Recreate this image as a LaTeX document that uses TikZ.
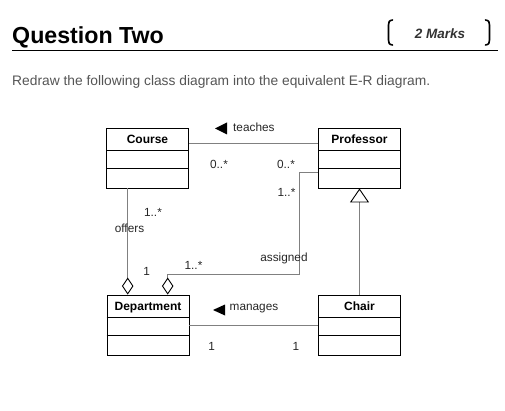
\documentclass[tikz,border=0pt]{standalone}
\usepackage{fontspec}
\setmainfont{Liberation Sans}
\usetikzlibrary{arrows.meta,calc}
\definecolor{linegray}{HTML}{808080}
\definecolor{subgray}{HTML}{555555}
\tikzset{
  classbox/.style={draw=black,line width=0.9pt,minimum width=82pt,minimum height=60pt,inner sep=0pt},
  classtitle/.style={font=\fontsize{12}{14}\selectfont\bfseries,inner sep=0pt,anchor=base},
  sepline/.style={draw=black,line width=0.9pt},
  conn/.style={draw=linegray,line width=0.9pt},
  lbl/.style={font=\fontsize{11.8}{14}\selectfont,inner sep=0pt,text=black!85},
  dirtri/.style={fill=black,draw=none}
}
\newcommand\umlclass[4]{%
  \node[classbox] (#1) at (#2,#3+30) {};
  \draw[sepline] ($(#1.north west)+(0,22.5)$) -- ($(#1.north east)+(0,22.5)$);
  \draw[sepline] ($(#1.north west)+(0,41)$) -- ($(#1.north east)+(0,41)$);
  \node[classtitle] (#1-t) at ($(#1.north)+(0,15.5)$) {#4};
}
\begin{document}
\begin{tikzpicture}[x=1pt,y=-1pt]
\useasboundingbox (0,0) rectangle (505,411);
% header
\node[anchor=base west,inner sep=0pt,font=\fontsize{23.2}{26}\selectfont\bfseries] (title) at (12,44) {Question Two};
\draw[line width=1pt] (12,51) coordinate (r1) -- (498,51) coordinate (r2);
\draw[line width=1.6pt,line cap=round] (392.5,20) .. controls (389,20.5) and (388.5,22) .. (388.5,25) -- (388.5,40) .. controls (388.5,43) and (389,44.5) .. (392.5,45);
\draw[line width=1.6pt,line cap=round] (485.5,20) .. controls (489,20.5) and (489.5,22) .. (489.5,25) -- (489.5,40) .. controls (489.5,43) and (489,44.5) .. (485.5,45);
\node[anchor=base,inner sep=0pt,font=\fontsize{13.5}{16}\selectfont\bfseries\itshape,text=black!80] (marks) at (440,38.5) {2 Marks};
\node[anchor=base west,inner sep=0pt,font=\fontsize{13.8}{16}\selectfont,text=subgray] (sub) at (12,85.5) {Redraw the following class diagram into the equivalent E-R diagram.};
% classes
\umlclass{course}{147.5}{128}{Course}
\umlclass{prof}{359.5}{128}{Professor}
\umlclass{dept}{148}{295}{Department}
\umlclass{chair}{359.5}{295}{Chair}
% teaches
\coordinate (t1) at ($(course.north east)+(0,15.7)$);
\draw[conn] (t1) -- (t1 -| prof.west);
\fill[dirtri] (215,128.5) -- (227,122.5) -- (227,134.5) -- cycle;
\node[lbl,anchor=west] (teaches) at (233,127.5) {teaches};
\node[lbl] (m1) at (219,164) {0..*};
\node[lbl] (m2) at (286,164) {0..*};
% assigned
\coordinate (a1) at ($(prof.north west)+(0,45.3)$);
\coordinate (a2) at (299,274.3);
\coordinate (a3) at (167.7,274.3);
\draw[conn,-{Diamond[open,length=17pt,width=11.5pt,line width=0.9pt,color=black]}] (a1) -| (a2) -- (a3) -- (a3 |- dept.north);
\node[lbl] (m3) at (286.5,192) {1..*};
\node[lbl] (m4) at (193.5,265.5) {1..*};
\node[lbl] (assigned) at (284,258) {assigned};
% offers
\coordinate (o1) at (127.7,188);
\draw[conn,-{Diamond[open,length=17pt,width=11.5pt,line width=0.9pt,color=black]}] (o1 |- course.south) -- (o1 |- dept.north);
\node[lbl] (m5) at (153,212.5) {1..*};
\node[lbl] (offers) at (129.5,228.5) {offers};
\node[lbl] (m6) at (146.7,271) {1};
% inheritance
\draw[conn,-{Triangle[open,length=14pt,width=19pt,line width=0.9pt,color=black,fill=white]}] (chair.north) -- (prof.south);
% manages
\coordinate (g1) at ($(dept.north east)+(0,30.7)$);
\draw[conn] (g1) -- (g1 -| chair.west);
\fill[dirtri] (213,310) -- (225,304.5) -- (225,315.5) -- cycle;
\node[lbl,anchor=west] (manages) at (229.5,309) {manages};
\node[lbl] (m7) at (211.7,346) {1};
\node[lbl] (m8) at (296,346) {1};
\end{tikzpicture}
\end{document}
